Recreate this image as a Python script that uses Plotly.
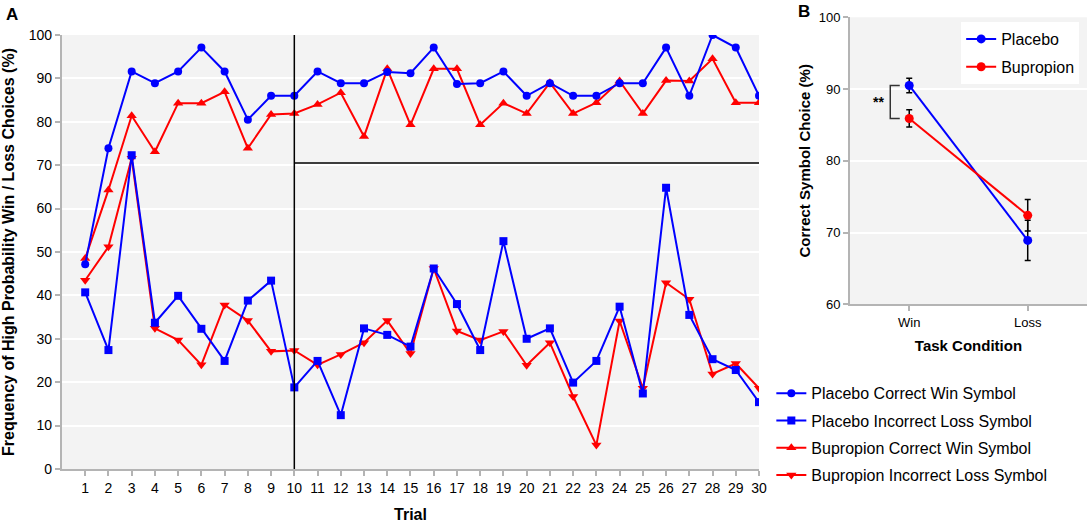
import plotly.graph_objects as go

# Panel A: trial-by-trial choice frequencies (%)
trials = list(range(1, 31))
placebo_correct_win = [47.2, 73.9, 91.6, 88.9, 91.6, 97.1, 91.6, 80.5, 86.0, 86.0,
                       91.6, 88.9, 88.9, 91.5, 91.2, 97.1, 88.7, 88.9, 91.6, 86.0,
                       88.9, 86.0, 86.0, 88.9, 88.9, 97.1, 86.0, 100.0, 97.1, 86.0]
placebo_incorrect_loss = [40.7, 27.4, 72.3, 33.7, 39.9, 32.3, 24.9, 38.8, 43.4, 18.8,
                          24.9, 12.4, 32.4, 30.9, 28.2, 46.2, 38.0, 27.4, 52.5, 30.0,
                          32.4, 19.9, 24.9, 37.4, 17.4, 64.8, 35.5, 25.3, 22.8, 15.4]
bupropion_correct_win = [48.5, 64.3, 81.4, 73.1, 84.3, 84.3, 86.9, 73.9, 81.7, 81.9,
                         84.0, 86.7, 76.6, 92.2, 79.3, 92.2, 92.2, 79.3, 84.3, 81.9,
                         89.0, 81.9, 84.4, 89.4, 81.9, 89.5, 89.4, 94.5, 84.4, 84.4]
bupropion_incorrect_loss = [43.5, 51.2, 71.6, 32.4, 29.7, 24.0, 37.8, 34.2, 27.1, 27.3,
                            24.0, 26.4, 29.1, 34.2, 26.6, 46.2, 31.8, 29.7, 31.7, 23.9,
                            29.1, 16.7, 5.5, 34.1, 18.6, 42.9, 39.1, 21.9, 24.3, 18.6]
divider_trial = 10
criterion_level = 70.5

# Panel B: mean correct symbol choice (%) with SEM
conditions = ["Win", "Loss"]
placebo_mean = [90.5, 68.9]
placebo_sem = [1.0, 2.8]
bupropion_mean = [85.9, 72.4]
bupropion_sem = [1.2, 2.2]

BLUE = "#0000ff"
RED = "#ff0000"
FONT = "Liberation Sans, Arial, sans-serif"

fig = go.Figure()

# panel A series (red drawn first so blue sits on top)
fig.add_trace(go.Scatter(x=trials, y=bupropion_correct_win, mode="lines+markers",
                         name="Bupropion Correct Win Symbol", legendgroup="g3", legendrank=3,
                         line=dict(color=RED, width=2),
                         marker=dict(symbol="triangle-up", size=9, color=RED)))
fig.add_trace(go.Scatter(x=trials, y=bupropion_incorrect_loss, mode="lines+markers",
                         name="Bupropion Incorrect Loss Symbol", legendgroup="g4", legendrank=4,
                         line=dict(color=RED, width=2),
                         marker=dict(symbol="triangle-down", size=9, color=RED)))
fig.add_trace(go.Scatter(x=trials, y=placebo_correct_win, mode="lines+markers",
                         name="Placebo Correct Win Symbol", legendgroup="g1", legendrank=1,
                         line=dict(color=BLUE, width=2),
                         marker=dict(symbol="circle", size=8, color=BLUE)))
fig.add_trace(go.Scatter(x=trials, y=placebo_incorrect_loss, mode="lines+markers",
                         name="Placebo Incorrect Loss Symbol", legendgroup="g2", legendrank=2,
                         line=dict(color=BLUE, width=2),
                         marker=dict(symbol="square", size=8, color=BLUE)))

# panel B
fig.add_trace(go.Scatter(x=conditions, y=placebo_mean, mode="lines+markers", name="Placebo",
                         xaxis="x2", yaxis="y2", legend="legend2", legendgroup="b1",
                         line=dict(color=BLUE, width=2),
                         marker=dict(symbol="circle", size=9, color=BLUE),
                         error_y=dict(type="data", array=placebo_sem, color="black",
                                      thickness=1.5, width=3)))
fig.add_trace(go.Scatter(x=conditions, y=bupropion_mean, mode="lines+markers", name="Bupropion",
                         xaxis="x2", yaxis="y2", legend="legend2", legendgroup="b2",
                         line=dict(color=RED, width=2),
                         marker=dict(symbol="circle", size=9, color=RED),
                         error_y=dict(type="data", array=bupropion_sem, color="black",
                                      thickness=1.5, width=3)))

axis_style = dict(showline=True, linecolor="#b4b4b4", linewidth=2, ticks="outside",
                  tickcolor="#b4b4b4", tickwidth=2, ticklen=5, zeroline=False,
                  automargin=False)
tick_a = dict(size=14, color="black", family=FONT)
tick_b = dict(size=13, color="black", family=FONT)

fig.update_layout(
    width=1091, height=524,
    margin=dict(l=0, r=0, t=0, b=0, autoexpand=False),
    paper_bgcolor="white", plot_bgcolor="#f3f3f3",
    font=dict(family=FONT, color="black"),
    xaxis=dict(domain=[0.0568, 0.6957], range=[0, 30], tickvals=trials, showgrid=False,
               tickfont=tick_a,
               title=dict(text="<b>Trial</b>", font=dict(size=16), standoff=14), **axis_style),
    yaxis=dict(domain=[0.105, 0.9332], range=[0, 100], dtick=10, showgrid=True,
               gridcolor="white", gridwidth=2, tickfont=tick_a,
               title=dict(text="<b>Frequency of High Probability Win / Loss Choices (%)</b>",
                          font=dict(size=16), standoff=12), **axis_style),
    xaxis2=dict(domain=[0.7791, 0.9963], range=[-0.5, 1.5], anchor="y2", showgrid=False,
                tickfont=tick_b,
                title=dict(text="<b>Task Condition</b>", font=dict(size=15), standoff=12),
                **axis_style),
    yaxis2=dict(domain=[0.4193, 0.967], range=[60, 100], dtick=10, anchor="x2",
                showgrid=True, gridcolor="white", gridwidth=2, tickfont=tick_b,
                title=dict(text="<b>Correct Symbol Choice (%)</b>", font=dict(size=15), standoff=4),
                **axis_style),
    legend=dict(x=0.707, y=0.282, xanchor="left", yanchor="top", bgcolor="rgba(0,0,0,0)",
                font=dict(size=16), tracegroupgap=3.5, traceorder="grouped"),
    legend2=dict(x=0.881, y=0.958, xanchor="left", yanchor="top", bgcolor="white",
                 font=dict(size=16), tracegroupgap=4, traceorder="grouped"),
    showlegend=True,
)

# reference lines in panel A
fig.add_shape(type="line", xref="x", yref="y", x0=divider_trial, x1=divider_trial,
              y0=0, y1=100, line=dict(color="black", width=1.5))
fig.add_shape(type="line", xref="x", yref="y", x0=divider_trial, x1=trials[-1],
              y0=criterion_level, y1=criterion_level, line=dict(color="black", width=1.5))

# significance bracket in panel B
bx0, bx1 = -0.08, -0.16
fig.add_shape(type="path", xref="x2", yref="y2",
              path=f"M {bx0},{placebo_mean[0]} L {bx1},{placebo_mean[0]} "
                   f"L {bx1},{bupropion_mean[0]} L {bx0},{bupropion_mean[0]}",
              line=dict(color="#333333", width=1.5))
fig.add_annotation(xref="x2", yref="y2", x=bx1, y=(placebo_mean[0] + bupropion_mean[0]) / 2,
                   text="<b>**</b>", showarrow=False, xanchor="right", xshift=-4,
                   font=dict(size=14))

# panel letters
fig.add_annotation(xref="paper", yref="paper", x=0.004, y=0.995, text="<b>A</b>",
                   showarrow=False, xanchor="left", yanchor="top", font=dict(size=17))
fig.add_annotation(xref="paper", yref="paper", x=0.730, y=1.0, text="<b>B</b>",
                   showarrow=False, xanchor="left", yanchor="top", font=dict(size=17))

# drop the page's default body margin so the figure sits at the window's corner
fig.write_html("out.html", config={"displayModeBar": False},
               post_script="document.body.style.margin = '0px';")
